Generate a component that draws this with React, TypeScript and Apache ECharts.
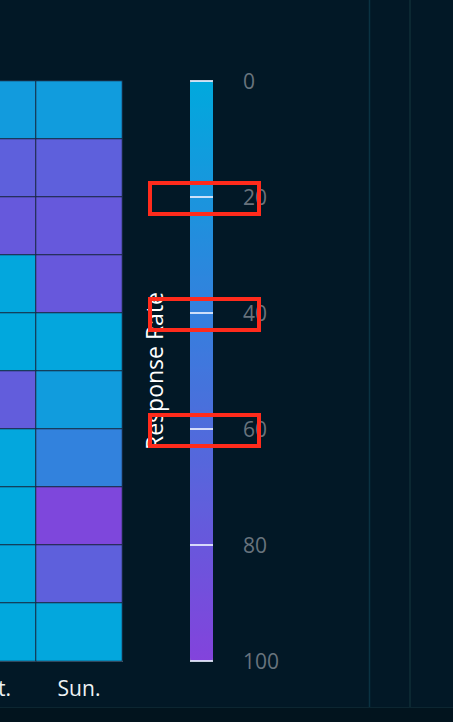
import React, { useEffect, useRef } from "react";
import * as echarts from "echarts";

// Visible columns of the heatmap (the rest of the week is cropped away on the left)
const days = ["Sat.", "Sun."];
const rows = ["R1", "R2", "R3", "R4", "R5", "R6", "R7", "R8", "R9", "R10"];
const satValues = [14, 72, 78, 2, 1, 75, 2, 1, 2, 1];
const sunValues = [13, 72, 78, 79, 3, 13, 38, 96, 72, 2];
const legendTicks = [0, 20, 40, 60, 80, 100];
// tick values that are marked with a red box
const highlighted = [20, 40, 60];

const FONT = "'Open Sans', 'Noto Sans', sans-serif";

const App = () => {
    const chartRef = useRef<HTMLDivElement>(null);

    useEffect(() => {
        document.body.style.margin = "0";
        if (!chartRef.current) return;
        const chart = echarts.init(chartRef.current, null, { renderer: "svg" });

        const heatData: number[][] = [];
        rows.forEach((_, r) => {
            heatData.push([0, r, satValues[r]]);
            heatData.push([1, r, sunValues[r]]);
        });

        // legend axis: 0 at top (y=81), 100 at bottom (y=661)
        const legendTop = 81;
        const legendHeight = 580;
        const boxes = highlighted.map((v) => {
            const cy = legendTop + (v / 100) * legendHeight;
            return {
                type: "rect",
                z: 100,
                shape: { x: 150, y: cy - 14, width: 109, height: 31 },
                style: { fill: "none", stroke: "#ff2b1c", lineWidth: 4 },
            };
        });

        const legendAxisBase = {
            type: "value",
            gridIndex: 1,
            inverse: true,
            min: 0,
            max: 100,
            interval: 20,
            z: 10,
            axisLine: { show: false },
            splitLine: { show: false },
        };

        chart.setOption({
            animation: false,
            backgroundColor: "#021826",
            textStyle: { fontFamily: FONT },
            grid: [
                {
                    left: -50, top: 81, width: 172, height: 580,
                    containLabel: false, outerBoundsMode: "none",
                },
                {
                    left: 190, top: 81, width: 23, height: 580,
                    containLabel: false, outerBoundsMode: "none",
                },
            ],
            xAxis: [
                {
                    type: "category",
                    data: days,
                    gridIndex: 0,
                    axisLine: { lineStyle: { color: "#dfe6ee", width: 1.5 } },
                    axisTick: { show: false },
                    axisLabel: { color: "#eef2f5", fontSize: 21, margin: 16, fontFamily: FONT },
                    splitLine: { show: false },
                },
                { type: "value", gridIndex: 1, show: false, min: 0, max: 1 },
            ],
            yAxis: [
                {
                    type: "category",
                    data: rows,
                    gridIndex: 0,
                    inverse: true,
                    axisLine: { show: false },
                    axisTick: { show: false },
                    axisLabel: { show: false },
                },
                // tick marks across the colour bar
                {
                    ...legendAxisBase,
                    position: "left",
                    axisTick: {
                        show: true,
                        inside: true,
                        length: 23,
                        lineStyle: { color: "rgba(235,240,255,0.85)", width: 2 },
                    },
                    axisLabel: { show: false },
                },
                // tick labels to the right of the colour bar
                {
                    ...legendAxisBase,
                    position: "right",
                    axisTick: { show: false },
                    axisLabel: {
                        color: "#68737d",
                        fontSize: 21,
                        margin: 30,
                        fontFamily: FONT,
                        customValues: legendTicks,
                    },
                },
            ],
            visualMap: {
                type: "continuous",
                min: 0,
                max: 100,
                inverse: true,
                calculable: false,
                orient: "vertical",
                left: 190,
                top: 81,
                padding: 0,
                itemWidth: 23,
                itemHeight: 580,
                text: null,
                showLabel: false,
                seriesIndex: 0,
                inRange: { color: ["#00a9dd", "#8343dc"] },
            },
            graphic: [
                {
                    type: "line",
                    shape: { x1: 369.5, y1: 0, x2: 369.5, y2: 707 },
                    style: { stroke: "#0a3242", lineWidth: 1.5 },
                },
                {
                    type: "line",
                    shape: { x1: 410, y1: 0, x2: 410, y2: 707 },
                    style: { stroke: "#0b2832", lineWidth: 2 },
                },
                {
                    type: "rect",
                    shape: { x: 0, y: 708, width: 453, height: 14 },
                    style: { fill: "#02141e" },
                },
                {
                    type: "line",
                    shape: { x1: 0, y1: 707.5, x2: 453, y2: 707.5 },
                    style: { stroke: "#0c2631", lineWidth: 1 },
                },
                {
                    type: "text",
                    x: 154,
                    y: 371,
                    rotation: Math.PI / 2,
                    style: {
                        text: "Response Rate",
                        fill: "#ffffff",
                        fontSize: 23,
                        fontFamily: FONT,
                        align: "center",
                        verticalAlign: "middle",
                    },
                },
                ...boxes,
            ],
            series: [
                {
                    type: "heatmap",
                    xAxisIndex: 0,
                    yAxisIndex: 0,
                    data: heatData,
                    itemStyle: { borderColor: "#17263c", borderWidth: 1 },
                    label: { show: false },
                },
            ],
        });

        return () => {
            chart.dispose();
        };
    }, []);

    return <div ref={chartRef} style={{ width: "453px", height: "722px" }} />;
};

export default App;
